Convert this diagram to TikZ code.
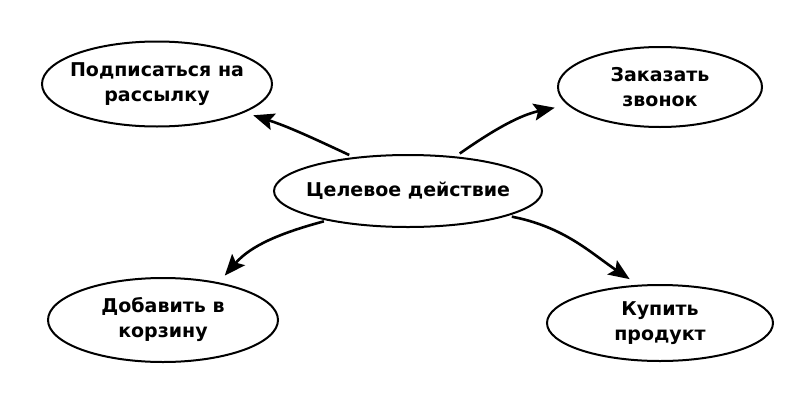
\documentclass[tikz,border=0pt]{standalone}
\usepackage{fontspec}
\setmainfont{DejaVu Sans}
\usetikzlibrary{arrows.meta, shapes.geometric}

\begin{document}
\begin{tikzpicture}[x=1pt, y=-1pt,
  oval/.style={draw, ellipse, line width=2pt, inner xsep=-10pt, inner ysep=0pt,
    align=center, font=\bfseries\fontsize{19}{25}\selectfont},
  link/.style={-{Stealth[length=21pt, width=17pt, inset=4pt]}, line width=2.6pt}]
  \useasboundingbox (0,0) rectangle (800,418);
  % center
  \node[oval, minimum width=268, minimum height=72] (goal) at (408,191) {Целевое действие};
  % actions
  \node[oval, minimum width=230, minimum height=85] (subscribe) at (157,84) {Подписаться на\\рассылку};
  \node[oval, minimum width=204, minimum height=80] (call) at (660,87) {Заказать\\звонок};
  \node[oval, minimum width=230, minimum height=84] (cart) at (163,320) {Добавить в\\корзину};
  \node[oval, minimum width=226, minimum height=76] (buy) at (660,323) {Купить\\продукт};
  % arrows
  \draw[link, shorten <=5pt, shorten >=9pt] (goal.148) to[out=155, in=-18] (subscribe.-18.6);
  \draw[link, shorten <=5pt, shorten >=13pt] (goal.36) to[out=35, in=192] (call.191);
  \draw[link, shorten <=3pt, shorten >=9pt] (goal.200) to[out=195, in=49] (cart.34);
  \draw[link, shorten <=4pt, shorten >=10pt] (goal.-14) to[out=-11, in=146] (buy.120);
\end{tikzpicture}
\end{document}
